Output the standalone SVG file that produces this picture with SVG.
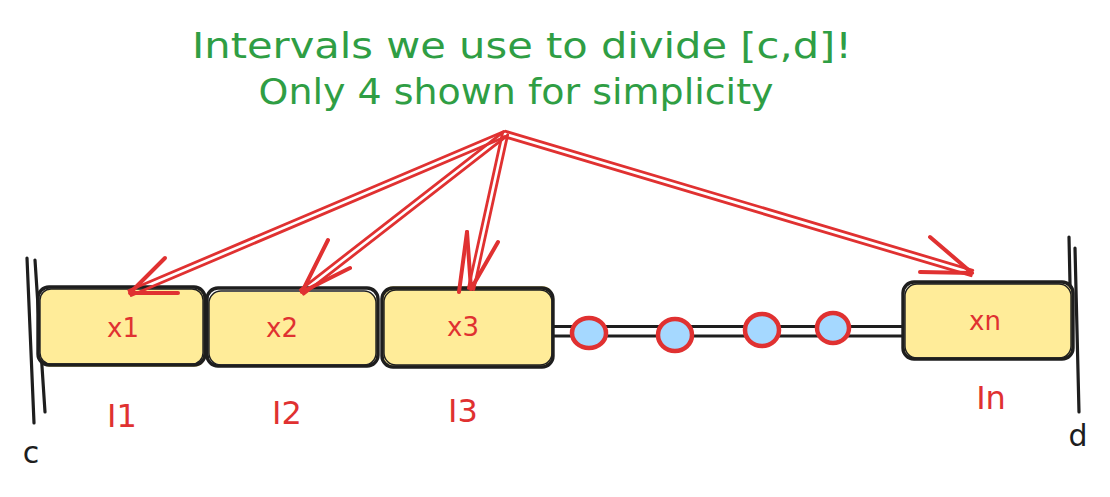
<svg xmlns="http://www.w3.org/2000/svg" width="1110" height="497" viewBox="0 0 1110 497">
<defs>
<style>
.box-fill{fill:#ffec99;stroke:none}
.box{fill:none;stroke:#1e1e1e;stroke-width:3.4;stroke-linejoin:round}
.box2{fill:none;stroke:#1e1e1e;stroke-width:1.4;stroke-linejoin:round}
.lbl{font-family:"DejaVu Sans","Liberation Sans",sans-serif;fill:#e03131;text-anchor:middle}
.title{font-family:"DejaVu Sans","Liberation Sans",sans-serif;fill:#2f9e44;font-size:35px;text-anchor:middle}
.blk{font-family:"DejaVu Sans","Liberation Sans",sans-serif;fill:#1e1e1e;text-anchor:middle;font-size:30px}
.shaft{stroke:#e03131;stroke-width:2.8;stroke-linecap:round;fill:none}
.head{stroke:#e03131;stroke-width:4;stroke-linecap:round;stroke-linejoin:round;fill:none}
.tick{stroke:#1e1e1e;stroke-width:3.2;stroke-linecap:round}
.rail{stroke:#1e1e1e;stroke-width:3;fill:none}
.dot{fill:#a5d8ff;stroke:#e03131;stroke-width:4.5}
</style>
</defs>
<rect width="1110" height="497" fill="#ffffff"/>

<g id="title">
<text class="title" x="522" y="58" textLength="660" lengthAdjust="spacingAndGlyphs">Intervals we use to divide [c,d]!</text>
<text class="title" x="516" y="104" textLength="515" lengthAdjust="spacingAndGlyphs">Only 4 shown for simplicity</text>
</g>

<g id="endpoint-c">
<line class="tick" x1="27" y1="258" x2="34" y2="423"/>
<line class="tick" x1="35" y1="260" x2="45" y2="412"/>
<text class="blk" x="31" y="463">c</text>
</g>

<g id="endpoint-d">
<line class="tick" x1="1069" y1="237" x2="1071" y2="330"/>
<line class="tick" x1="1075" y1="248" x2="1079" y2="412"/>
<text class="blk" x="1078" y="446">d</text>
</g>

<g id="connector-line">
<line class="rail" x1="552" y1="326.5" x2="904" y2="326.5"/>
<line class="rail" x1="552" y1="336" x2="904" y2="336"/>
</g>

<g id="dots">
<ellipse class="dot" cx="589" cy="333" rx="17" ry="15"/>
<ellipse class="dot" cx="675" cy="335" rx="17" ry="16"/>
<ellipse class="dot" cx="762" cy="330" rx="17" ry="16"/>
<ellipse class="dot" cx="833" cy="328" rx="16" ry="15"/>
</g>

<g id="box-x1">
<rect class="box-fill" x="40" y="289" width="165" height="78" rx="10"/>
<rect class="box" x="38" y="287" width="167" height="78" rx="11"/>
<rect class="box2" x="40" y="289" width="163" height="75" rx="11"/>
<text class="lbl" x="123" y="337" font-size="26">x1</text>
<text class="lbl" x="122" y="427" font-size="32">I1</text>
</g>

<g id="box-x2">
<rect class="box-fill" x="209" y="292" width="168" height="72" rx="10"/>
<rect class="box" x="207" y="288" width="171" height="78" rx="11"/>
<rect class="box2" x="209" y="291" width="167" height="74" rx="12"/>
<text class="lbl" x="282" y="337" font-size="26">x2</text>
<text class="lbl" x="287" y="424" font-size="32">I2</text>
</g>

<g id="box-x3">
<rect class="box-fill" x="383" y="286" width="170" height="80" rx="10"/>
<rect class="box" x="382" y="288" width="171" height="79" rx="11"/>
<rect class="box2" x="384" y="290" width="168" height="75" rx="12"/>
<text class="lbl" x="463" y="336" font-size="26">x3</text>
<text class="lbl" x="463" y="422" font-size="32">I3</text>
</g>

<g id="box-xn">
<rect class="box-fill" x="905" y="284" width="167" height="76" rx="10"/>
<rect class="box" x="903" y="282" width="170" height="77" rx="11"/>
<rect class="box2" x="905" y="284" width="166" height="74" rx="12"/>
<text class="lbl" x="985" y="330" font-size="26">xn</text>
<text class="lbl" x="991" y="409" font-size="32">In</text>
</g>

<g id="connectors">
<line class="shaft" x1="506.1" y1="136.5" x2="131.1" y2="295.5"/>
<line class="shaft" x1="503.9" y1="131.5" x2="128.9" y2="290.5"/>
<polyline class="head" points="165,258 130,293 178,293"/>

<line class="shaft" x1="506.6" y1="136.2" x2="303.6" y2="294.2"/>
<line class="shaft" x1="503.4" y1="131.8" x2="300.4" y2="289.8"/>
<polyline class="head" points="328,240 302,292 350,268"/>

<line class="shaft" x1="507.7" y1="134.6" x2="473.7" y2="289.6"/>
<line class="shaft" x1="502.4" y1="133.4" x2="468.4" y2="288.4"/>
<polyline class="head" points="467,232 471,289 498,242"/>
<line class="head" x1="467" y1="232" x2="459" y2="292"/>

<line class="shaft" x1="504.2" y1="136.7" x2="971.2" y2="275.7"/>
<line class="shaft" x1="505.8" y1="131.3" x2="972.8" y2="270.3"/>
<polyline class="head" points="930,237 972,273 920,272"/>
</g>
</svg>
